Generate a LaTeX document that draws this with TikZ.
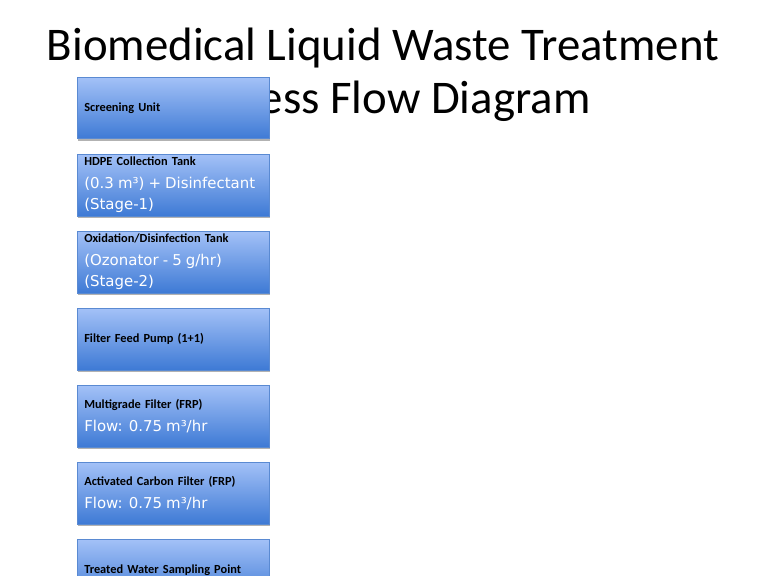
\documentclass[tikz,border=0pt]{standalone}
\usepackage{fontspec}
\setmainfont{Carlito}
\newfontfamily\notefont{DejaVu Sans}
\usetikzlibrary{shadows}
\definecolor{boxtop}{HTML}{A3C1F7}
\definecolor{boxbot}{HTML}{3E7AD5}
\definecolor{boxline}{HTML}{5A8AD2}
\newcommand{\note}{\notefont\mdseries\color{white}\fontsize{15}{21}\selectfont}

\begin{document}
\begin{tikzpicture}[x=1bp,y=-1bp,
    stage/.style={rectangle,anchor=north west,minimum width=192bp,minimum height=61.5bp,
      inner xsep=7bp,inner ysep=0pt,text width=178bp,align=left,
      top color=boxtop,bottom color=boxbot,draw=boxline,line width=0.6bp,
      drop shadow={shadow xshift=0.5bp,shadow yshift=-2.5bp,fill=black,opacity=0.3},
      font=\bfseries\fontsize{12.4}{21}\selectfont}]
    \useasboundingbox (0,0) rectangle (768,576);
    \fill[white] (0,0) rectangle (768,576);
    \clip (0,0) rectangle (768,576);
    \node[font=\fontsize{47}{53.3}\selectfont,align=center,anchor=base] (title) at (383,113.3) {Biomedical Liquid Waste Treatment\\Process Flow Diagram};
    \node[stage] (screen) at (77,77) {Screening Unit};
    \node[stage] (tank) at (77,154) {HDPE Collection Tank\\[2bp]\note (0.3 m³) + Disinfectant\\(Stage-1)};
    \node[stage] (oxid) at (77,231) {Oxidation/Disinfection Tank\\[2bp]\note (Ozonator - 5 g/hr)\\(Stage-2)};
    \node[stage] (pump) at (77,308) {Filter Feed Pump (1+1)};
    \node[stage] (multi) at (77,385) {Multigrade Filter (FRP)\\[2bp]\note Flow: 0.75 m³/hr};
    \node[stage] (carbon) at (77,462) {Activated Carbon Filter (FRP)\\[2bp]\note Flow: 0.75 m³/hr};
    \node[stage] (sample) at (77,539) {Treated Water Sampling Point};
  \end{tikzpicture}
\end{document}
